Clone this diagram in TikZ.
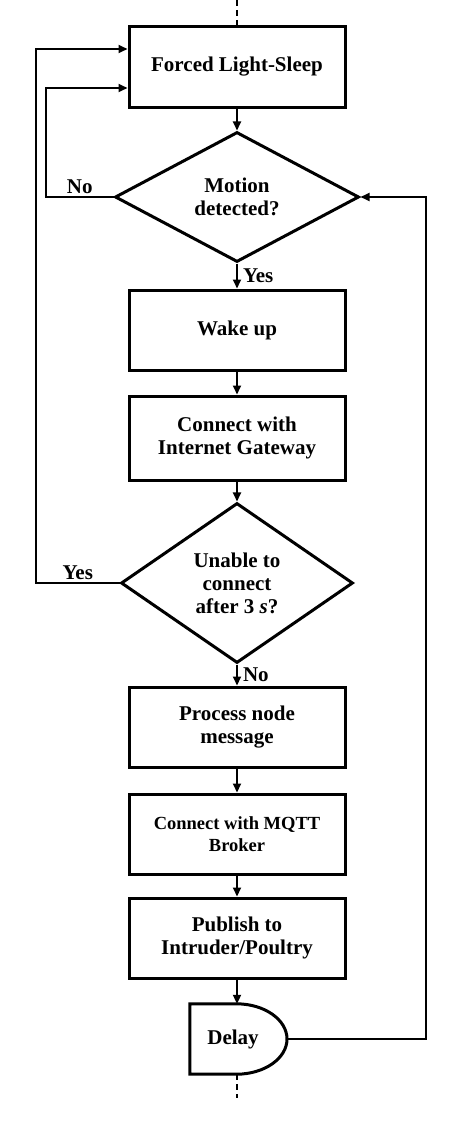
\documentclass[tikz,border=0pt]{standalone}
\usepackage{fontspec}
\setmainfont{Liberation Serif}
\usetikzlibrary{shapes.geometric,arrows.meta}
\tikzset{
  every node/.style={font=\bfseries\fontsize{21}{23}\selectfont},
  box/.style={draw,line width=3pt,minimum width=216pt,minimum height=80pt,align=center,inner sep=2pt},
  decision/.style={draw,diamond,line width=3pt,align=center,inner sep=0pt},
  flow/.style={line width=2pt,-{Triangle[length=9pt,width=8pt]}},
  dash line/.style={line width=2pt,dash pattern=on 6pt off 4pt,-}
}
\begin{document}
\begin{tikzpicture}[x=1pt,y=-1pt]
      \useasboundingbox (0,0) rectangle (460,1132);
      \draw
        (237,67) node[box] (sleep){Forced Light-Sleep}
        (237,197) node[decision,minimum width=244pt,minimum height=130pt] (motion){Motion\\detected?}
        (237,330) node[box] (wake){Wake up}
        (237,438) node[box,minimum height=84pt] (gateway){Connect with\\Internet Gateway}
        (237,583) node[decision,minimum width=232pt,minimum height=160pt] (unable){Unable to\\connect\\after 3 \textit{s}?}
        (237,727) node[box] (process){Process node\\message}
        (237,834) node[box,font=\bfseries\fontsize{18.5}{22}\selectfont] (mqtt){Connect with MQTT\\Broker}
        (237,938) node[box] (publish){Publish to\\Intruder/Poultry}
        (237,1039) node[minimum width=94pt,minimum height=70pt,inner sep=0pt] (delay){\kern-8pt Delay};
      \coordinate (start) at (237,0);
      \coordinate (stop) at (237,1098);
      \coordinate (delayout) at (287,1039);
      % delay symbol
      \draw[line width=3pt] (delay.north west) -- (delay.north)
        .. controls (264.6,1004) and (287,1019.7) .. (delayout)
        .. controls (287,1058.3) and (264.6,1074) .. (delay.south)
        -- (delay.south west) -- cycle;
      \begin{scope}[flow]
        \draw[dash line] (start) to (sleep);
        \draw (sleep) to (motion);
        \draw (motion) to node[right,inner sep=5pt]{Yes} (wake);
        \draw (wake) to (gateway);
        \draw (gateway) to (unable);
        \draw (unable) to node[right,inner sep=5pt]{No} (process);
        \draw (process) to (mqtt);
        \draw (mqtt) to (publish);
        \draw (publish) to (delay);
        \draw[dash line] (delay) to (stop);
        \draw (motion.west) -- node[above,inner sep=2pt]{No} (46,197) |- ([yshift=-21pt]sleep.west);
        \draw (unable.west) -- node[above,inner sep=2pt]{Yes} (36,583) |- ([yshift=18pt]sleep.west);
        \draw (delayout) -- (426,1039) |- (motion.east);
      \end{scope}
    \end{tikzpicture}
\end{document}
